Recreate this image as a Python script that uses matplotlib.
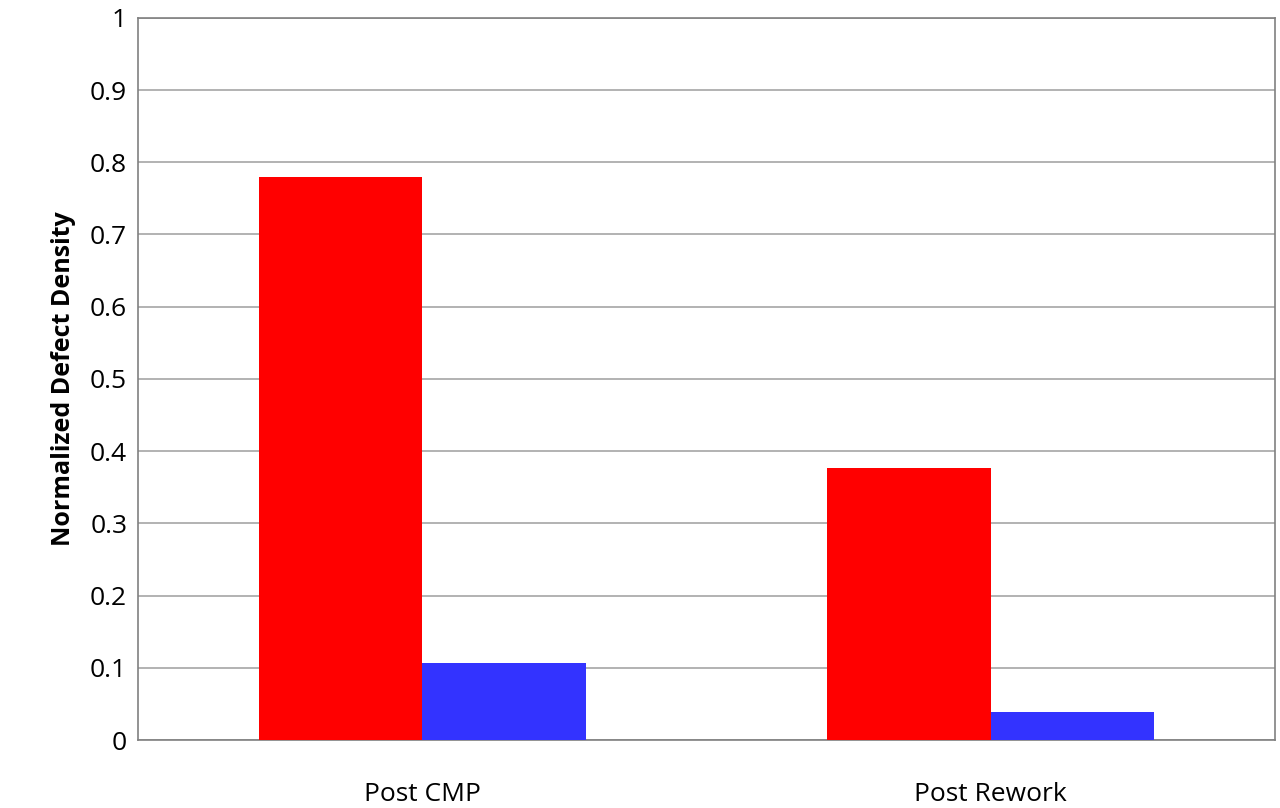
import matplotlib.pyplot as plt
import numpy as np

plt.rcParams['font.family'] = ['Open Sans', 'DejaVu Sans']

categories = ["Post CMP", "Post Rework"]
series_red = [0.78, 0.377]
series_blue = [0.107, 0.039]

fig = plt.figure(figsize=(12.8, 8.08), dpi=100)
ax = fig.add_axes([0.108, 0.084, 0.888, 0.894])

x = np.arange(len(categories))
w = 0.288
ax.bar(x - w / 2, series_red, w, color="#ff0000", zorder=3)
ax.bar(x + w / 2, series_blue, w, color="#3333ff", zorder=3)

ax.set_xlim(-0.5, 1.5)
ax.set_ylim(0, 1)
ax.set_yticks(np.arange(0, 1.01, 0.1))
ax.set_yticklabels(["0"] + [f"{v:.1f}" for v in np.arange(0.1, 1.0, 0.1)] + ["1"])
ax.set_xticks(x)
ax.set_xticklabels(categories)
ax.tick_params(axis="y", labelsize=19, length=0, pad=8)
ax.tick_params(axis="x", labelsize=19, length=0, pad=30)
ax.grid(axis="y", color="#a6a6a6", linewidth=1.2, zorder=0)
for s in ax.spines.values():
    s.set_color("#808080")
    s.set_linewidth(1.2)
ax.set_ylabel("Normalized Defect Density", fontsize=18, fontweight="bold", labelpad=10)

fig.savefig("out.png", dpi=100)
